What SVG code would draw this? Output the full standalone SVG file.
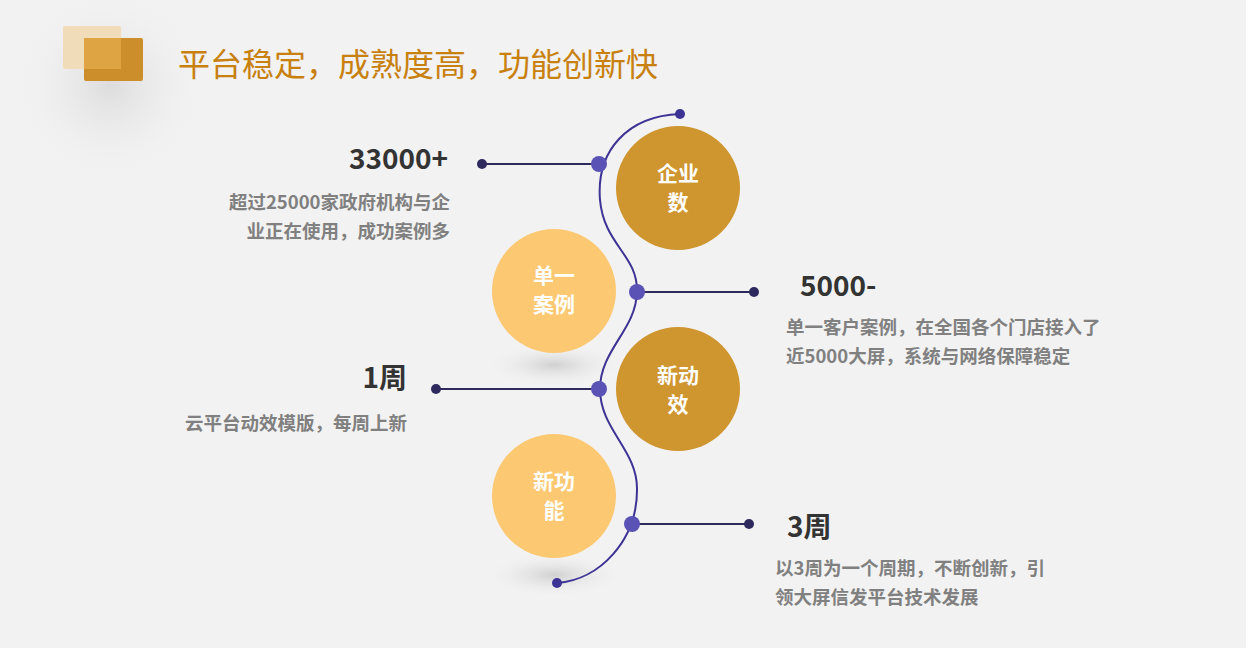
<svg xmlns="http://www.w3.org/2000/svg" width="1246" height="648" viewBox="0 0 1246 648">
<defs>
<radialGradient id="g1"><stop offset="0" stop-color="#dcdcdc"/><stop offset="1" stop-color="#f2f2f2" stop-opacity="0"/></radialGradient>
<radialGradient id="sh"><stop offset="0" stop-color="#d0d0d0"/><stop offset="1" stop-color="#f2f2f2" stop-opacity="0"/></radialGradient>
<style>
.t{font-family:"Noto Sans CJK SC","Noto Sans",sans-serif;font-weight:bold}
.num{font-size:28px;fill:#333}
.d{font-size:18.5px;fill:#808080}
.c{font-size:21px;fill:#fff;text-anchor:middle}
.ln{stroke:#2e2a5e;stroke-width:2;fill:none}
.big{fill:#5b52b5}
.sm{fill:#2e2a5e}
</style>
</defs>
<rect width="1246" height="648" fill="#f2f2f2"/>
<circle cx="110" cy="85" r="100" fill="url(#g1)"/>
<ellipse cx="554" cy="365" rx="70" ry="22" fill="url(#sh)"/>
<ellipse cx="554" cy="575" rx="70" ry="22" fill="url(#sh)"/>
<g id="logo">
<rect x="63" y="26" width="58" height="43" rx="2" fill="#f0dcb8"/>
<rect x="84" y="38" width="59" height="43" rx="2" fill="#cc8e2a"/>
<rect x="84" y="38" width="37" height="31" fill="#dea444"/>
</g>
<text x="178" y="76" font-family="Noto Sans CJK SC,sans-serif" font-size="32" fill="#c8800e">平台稳定，成熟度高，功能创新快</text>
<g id="connectors">
<path style="stroke:#3d3394;stroke-width:2;fill:none" d="M680,114 C628,116 596,150 600,200 C604,245 638,255 637,292 C636,330 600,350 600,389 C600,430 638,450 637,490 C637,540 600,580 557,583"/>
<line class="ln" x1="482" y1="164" x2="599" y2="164"/>
<line class="ln" x1="637" y1="292" x2="754" y2="292"/>
<line class="ln" x1="436" y1="389" x2="599" y2="389"/>
<line class="ln" x1="632" y1="524" x2="749" y2="524"/>
<circle cx="680" cy="114" r="5" fill="#3d3394"/>
<circle cx="557" cy="583" r="5" fill="#3d3394"/>
<circle class="big" cx="599" cy="164" r="8"/><circle class="sm" cx="482" cy="164" r="5"/>
<circle class="big" cx="637" cy="292" r="8"/><circle class="sm" cx="754" cy="292" r="5"/>
<circle class="big" cx="599" cy="389" r="8"/><circle class="sm" cx="436" cy="389" r="5"/>
<circle class="big" cx="632" cy="524" r="8"/><circle class="sm" cx="749" cy="524" r="5"/>
</g>
<g id="n1"><circle cx="678" cy="188" r="62" fill="#cf952e"/><text class="t c" x="678" y="181">企业</text><text class="t c" x="678" y="210">数</text></g>
<g id="n2"><circle cx="554" cy="291" r="62" fill="#fdc872"/><text class="t c" x="554" y="283">单一</text><text class="t c" x="554" y="312">案例</text></g>
<g id="n3"><circle cx="678" cy="389" r="62" fill="#cf952e"/><text class="t c" x="678" y="383">新动</text><text class="t c" x="678" y="412">效</text></g>
<g id="n4"><circle cx="554" cy="496" r="62" fill="#fdc872"/><text class="t c" x="554" y="489">新功</text><text class="t c" x="554" y="518">能</text></g>
<g id="l1" text-anchor="end"><text class="t num" x="448" y="169">33000+</text><text class="t d" x="450" y="209">超过25000家政府机构与企</text><text class="t d" x="450" y="238">业正在使用，成功案例多</text></g>
<g id="l2"><text class="t num" x="800" y="296">5000-</text><text class="t d" x="786" y="334">单一客户案例，在全国各个门店接入了</text><text class="t d" x="786" y="363">近5000大屏，系统与网络保障稳定</text></g>
<g id="l3" text-anchor="end"><text class="t num" x="407" y="388">1周</text><text class="t d" x="407" y="430">云平台动效模版，每周上新</text></g>
<g id="l4"><text class="t num" x="787" y="537">3周</text><text class="t d" x="775" y="575">以3周为一个周期，不断创新，引</text><text class="t d" x="775" y="604">领大屏信发平台技术发展</text></g>
</svg>
